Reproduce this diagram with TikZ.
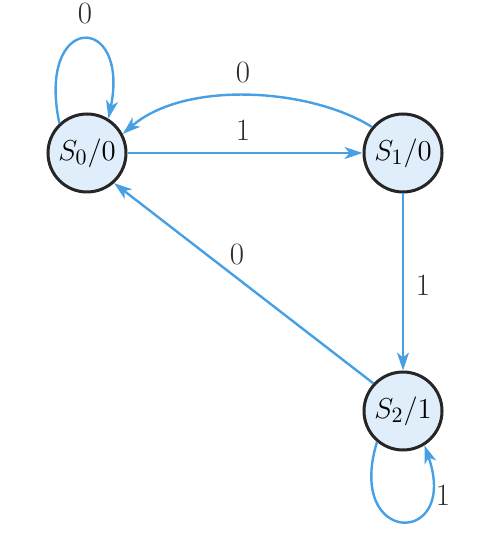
\documentclass[tikz,border=0pt]{standalone}
\usetikzlibrary{arrows.meta}
\definecolor{edgeblue}{RGB}{72,160,228}
\definecolor{nodefill}{RGB}{224,237,250}
\definecolor{labelgray}{RGB}{45,45,45}
\begin{document}
\begin{tikzpicture}[x=0.5pt,y=-0.5pt,
  state/.style={circle,draw=black!85,line width=1.5pt,fill=nodefill,minimum size=39pt,inner sep=0pt,
    font=\fontsize{15}{18}\selectfont},
  edge/.style={draw=edgeblue,line width=1.2pt,-{Stealth[length=9pt,width=6pt,inset=2.5pt]}},
  lab/.style={text=labelgray,font=\fontsize{15.5}{18}\selectfont,inner sep=0pt}]
\useasboundingbox (0,0) rectangle (498,544);
\node[state] (S0) at (87,153) {$S_0/0$};
\node[state] (S1) at (403,153) {$S_1/0$};
\node[state] (S2) at (403,411) {$S_2/1$};
% self loop S0
\draw[edge] (S0.133) .. controls (36,12) and (130,12) .. (S0.58);
\node[lab] (l00) at (85,14) {0};
% S1 -> S0 arc
\draw[edge] (S1.140) .. controls (310,88) and (185,80) .. (S0.28);
\node[lab] (l10) at (243,73) {0};
% S0 -> S1
\draw[edge] (S0) -- (S1);
\node[lab] (l01) at (243,130) {1};
% S1 -> S2
\draw[edge] (S1) -- (S2);
\node[lab] (l12) at (423,285) {1};
% S2 -> S0
\draw[edge] (S2.137) -- (S0.-48);
\node[lab] (l20) at (237,255) {0};
% self loop S2
\draw[edge] (S2.-130) .. controls (345,547) and (460,547) .. (S2.-58);
\node[lab] (l22) at (443,495) {1};
\end{tikzpicture}
\end{document}
